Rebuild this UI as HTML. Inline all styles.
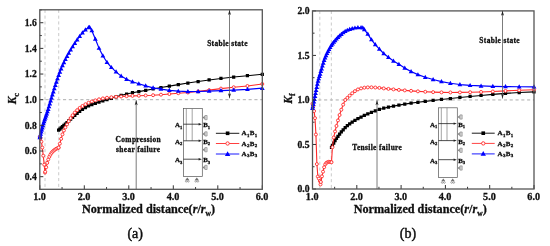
<!DOCTYPE html>
<html><head><meta charset="utf-8"><title>Figure</title>
<style>html,body{margin:0;padding:0;background:#fff;width:550px;height:246px;overflow:hidden}svg{display:block}</style>
</head><body>
<svg width="550" height="246" viewBox="0 0 550 246">
<defs><filter id="bl" x="-2%" y="-2%" width="104%" height="104%"><feGaussianBlur stdDeviation="0.35"/></filter></defs>
<style>text{stroke:#111;stroke-width:0.3px;stroke-linejoin:round}text.sym{stroke:none}.ns text{stroke-width:0.3px}</style>
<rect width="550" height="246" fill="#fff"/>
<g filter="url(#bl)">
<path d="M39.8 99.7H262.3" stroke="#a4a4a4" stroke-width="0.9" stroke-dasharray="3.1 2.7" fill="none"/>
<path d="M45.01 9.8V189.3M58.71 9.8V189.3" stroke="#bcbcbc" stroke-width="0.8" stroke-dasharray="3.1 2.7" fill="none"/>
<polyline points="58.6,130.2 59.83,129.11 61.12,127.94 62.46,126.71 63.88,125.39 65.39,124.02 67.02,122.56 68.75,120.93 70.62,119.19 72.62,117.35 74.79,115.43 77.14,113.4 79.68,111.39 82.45,109.41 85.43,107.59 88.56,105.98 91.86,104.6 95.34,103.33 99,102.06 102.88,100.84 106.97,99.61 111.36,98.28 116.07,96.83 121.14,95.36 126.6,94.01 132.49,92.75 138.83,91.61 145.69,90.36 153.09,88.95 160.96,87.55 169.35,86.09 178.3,84.62 187.88,83.06 198.13,81.57 209.13,79.96 220.95,78.49 233.68,77.07 247.43,75.69 262.3,74.3" fill="none" stroke="#000" stroke-width="1.1" stroke-linejoin="round"/>
<path d="M56.98 128.57h3.25v3.25h-3.25zM58.21 127.48h3.25v3.25h-3.25zM59.5 126.32h3.25v3.25h-3.25zM60.83 125.09h3.25v3.25h-3.25zM62.25 123.76h3.25v3.25h-3.25zM63.77 122.39h3.25v3.25h-3.25zM65.39 120.94h3.25v3.25h-3.25zM67.13 119.3h3.25v3.25h-3.25zM68.99 117.56h3.25v3.25h-3.25zM71 115.72h3.25v3.25h-3.25zM73.17 113.8h3.25v3.25h-3.25zM75.51 111.77h3.25v3.25h-3.25zM78.06 109.76h3.25v3.25h-3.25zM80.83 107.78h3.25v3.25h-3.25zM83.81 105.97h3.25v3.25h-3.25zM86.94 104.35h3.25v3.25h-3.25zM90.24 102.98h3.25v3.25h-3.25zM93.71 101.71h3.25v3.25h-3.25zM97.38 100.44h3.25v3.25h-3.25zM101.25 99.22h3.25v3.25h-3.25zM105.35 97.98h3.25v3.25h-3.25zM109.74 96.66h3.25v3.25h-3.25zM114.45 95.2h3.25v3.25h-3.25zM119.51 93.73h3.25v3.25h-3.25zM124.97 92.38h3.25v3.25h-3.25zM130.86 91.12h3.25v3.25h-3.25zM137.21 89.98h3.25v3.25h-3.25zM144.07 88.74h3.25v3.25h-3.25zM151.46 87.32h3.25v3.25h-3.25zM159.33 85.93h3.25v3.25h-3.25zM167.72 84.47h3.25v3.25h-3.25zM176.68 82.99h3.25v3.25h-3.25zM186.25 81.43h3.25v3.25h-3.25zM196.5 79.94h3.25v3.25h-3.25zM207.5 78.33h3.25v3.25h-3.25zM219.32 76.87h3.25v3.25h-3.25zM232.05 75.45h3.25v3.25h-3.25zM245.8 74.06h3.25v3.25h-3.25zM260.68 72.68h3.25v3.25h-3.25z" fill="#000"/>
<polyline points="39.8,136.8 40.48,138.19 41.39,141.7 42.31,147.6 43.25,155.69 44.21,164.65 45,172.6 45.19,171.73 46.19,167.22 47.2,162.89 48.24,159.49 49.3,156.79 50.38,154.66 51.48,152.9 52.6,151.57 53.75,150.54 54.92,149.69 56.11,148.91 57.33,148.21 58.57,147.61 58.6,147.6 59.83,143.66 61.12,138.85 62.46,134.38 63.88,130.58 65.39,127.38 67.02,124.41 68.75,121.2 70.62,118.14 72.62,115.28 74.79,112.59 77.14,110.18 79.68,107.97 82.45,106 85.43,104.24 88.56,102.75 91.86,101.48 95.34,100.37 99,99.31 102.88,98.43 106.97,97.76 111.36,97.25 116.07,96.85 121.14,96.47 126.6,96.18 132.49,95.87 138.83,95.73 145.69,95.49 153.09,95.19 160.96,94.68 169.35,94 178.3,93.21 187.88,92.48 198.13,91.38 209.13,90.16 220.95,88.59 233.68,87.27 247.43,85.99 262.3,84" fill="none" stroke="#ff2a2a" stroke-width="1.1" stroke-linejoin="round"/>
<g fill="#fff" stroke="#ff2a2a" stroke-width="0.9"><circle cx="39.8" cy="136.8" r="1.5"/><circle cx="40.48" cy="138.19" r="1.5"/><circle cx="41.39" cy="141.7" r="1.5"/><circle cx="42.31" cy="147.6" r="1.5"/><circle cx="43.25" cy="155.69" r="1.5"/><circle cx="44.21" cy="164.65" r="1.5"/><circle cx="45" cy="172.6" r="1.5"/><circle cx="45.19" cy="171.73" r="1.5"/><circle cx="46.19" cy="167.22" r="1.5"/><circle cx="47.2" cy="162.89" r="1.5"/><circle cx="48.24" cy="159.49" r="1.5"/><circle cx="49.3" cy="156.79" r="1.5"/><circle cx="50.38" cy="154.66" r="1.5"/><circle cx="51.48" cy="152.9" r="1.5"/><circle cx="52.6" cy="151.57" r="1.5"/><circle cx="53.75" cy="150.54" r="1.5"/><circle cx="54.92" cy="149.69" r="1.5"/><circle cx="56.11" cy="148.91" r="1.5"/><circle cx="57.33" cy="148.21" r="1.5"/><circle cx="58.57" cy="147.61" r="1.5"/><circle cx="58.6" cy="147.6" r="1.5"/><circle cx="59.83" cy="143.66" r="1.5"/><circle cx="61.12" cy="138.85" r="1.5"/><circle cx="62.46" cy="134.38" r="1.5"/><circle cx="63.88" cy="130.58" r="1.5"/><circle cx="65.39" cy="127.38" r="1.5"/><circle cx="67.02" cy="124.41" r="1.5"/><circle cx="68.75" cy="121.2" r="1.5"/><circle cx="70.62" cy="118.14" r="1.5"/><circle cx="72.62" cy="115.28" r="1.5"/><circle cx="74.79" cy="112.59" r="1.5"/><circle cx="77.14" cy="110.18" r="1.5"/><circle cx="79.68" cy="107.97" r="1.5"/><circle cx="82.45" cy="106" r="1.5"/><circle cx="85.43" cy="104.24" r="1.5"/><circle cx="88.56" cy="102.75" r="1.5"/><circle cx="91.86" cy="101.48" r="1.5"/><circle cx="95.34" cy="100.37" r="1.5"/><circle cx="99" cy="99.31" r="1.5"/><circle cx="102.88" cy="98.43" r="1.5"/><circle cx="106.97" cy="97.76" r="1.5"/><circle cx="111.36" cy="97.25" r="1.5"/><circle cx="116.07" cy="96.85" r="1.5"/><circle cx="121.14" cy="96.47" r="1.5"/><circle cx="126.6" cy="96.18" r="1.5"/><circle cx="132.49" cy="95.87" r="1.5"/><circle cx="138.83" cy="95.73" r="1.5"/><circle cx="145.69" cy="95.49" r="1.5"/><circle cx="153.09" cy="95.19" r="1.5"/><circle cx="160.96" cy="94.68" r="1.5"/><circle cx="169.35" cy="94" r="1.5"/><circle cx="178.3" cy="93.21" r="1.5"/><circle cx="187.88" cy="92.48" r="1.5"/><circle cx="198.13" cy="91.38" r="1.5"/><circle cx="209.13" cy="90.16" r="1.5"/><circle cx="220.95" cy="88.59" r="1.5"/><circle cx="233.68" cy="87.27" r="1.5"/><circle cx="247.43" cy="85.99" r="1.5"/><circle cx="262.3" cy="84" r="1.5"/></g>
<polyline points="39.8,137.5 40.14,136.09 40.65,134.01 41.17,131.93 41.71,129.83 42.27,127.74 42.84,125.66 43.44,123.59 44.05,121.56 44.68,119.61 45.33,117.7 46.01,115.78 46.71,113.79 47.43,111.66 48.18,109.3 48.96,106.65 49.77,103.8 50.61,100.86 51.48,97.91 52.38,94.87 53.32,91.74 54.3,88.55 55.32,85.32 56.38,82.03 57.49,78.67 58.65,75.3 59.86,71.96 61.12,68.7 62.46,65.59 63.88,62.5 65.39,59.41 67.02,56.29 68.75,53.15 70.62,49.94 72.62,46.66 74.79,43.28 77.14,39.81 79.68,36.25 82.45,32.78 85.43,29.74 88.56,27.62 89.6,27.2 91.86,30.67 95.34,39.06 99,48.15 102.88,55.75 106.97,62.25 111.36,67.4 116.07,71.86 121.14,76.09 126.6,79.35 132.49,81.79 138.83,83.75 145.69,85.86 153.09,87.86 160.96,89.14 169.35,90.31 178.3,91.19 187.88,91.6 198.13,91.5 209.13,91.09 220.95,90.6 233.68,90.09 247.43,89.39 262.3,88.2" fill="none" stroke="#0000ff" stroke-width="1.2" stroke-linejoin="round"/>
<path d="M39.8 134.98l2.4 4.2h-4.8zM40.14 133.57l2.4 4.2h-4.8zM40.65 131.49l2.4 4.2h-4.8zM41.17 129.41l2.4 4.2h-4.8zM41.71 127.31l2.4 4.2h-4.8zM42.27 125.22l2.4 4.2h-4.8zM42.84 123.14l2.4 4.2h-4.8zM43.44 121.07l2.4 4.2h-4.8zM44.05 119.04l2.4 4.2h-4.8zM44.68 117.09l2.4 4.2h-4.8zM45.33 115.18l2.4 4.2h-4.8zM46.01 113.26l2.4 4.2h-4.8zM46.71 111.27l2.4 4.2h-4.8zM47.43 109.14l2.4 4.2h-4.8zM48.18 106.78l2.4 4.2h-4.8zM48.96 104.13l2.4 4.2h-4.8zM49.77 101.28l2.4 4.2h-4.8zM50.61 98.34l2.4 4.2h-4.8zM51.48 95.39l2.4 4.2h-4.8zM52.38 92.35l2.4 4.2h-4.8zM53.32 89.22l2.4 4.2h-4.8zM54.3 86.03l2.4 4.2h-4.8zM55.32 82.8l2.4 4.2h-4.8zM56.38 79.51l2.4 4.2h-4.8zM57.49 76.15l2.4 4.2h-4.8zM58.65 72.78l2.4 4.2h-4.8zM59.86 69.44l2.4 4.2h-4.8zM61.12 66.18l2.4 4.2h-4.8zM62.46 63.07l2.4 4.2h-4.8zM63.88 59.98l2.4 4.2h-4.8zM65.39 56.89l2.4 4.2h-4.8zM67.02 53.77l2.4 4.2h-4.8zM68.75 50.63l2.4 4.2h-4.8zM70.62 47.42l2.4 4.2h-4.8zM72.62 44.14l2.4 4.2h-4.8zM74.79 40.76l2.4 4.2h-4.8zM77.14 37.29l2.4 4.2h-4.8zM79.68 33.73l2.4 4.2h-4.8zM82.45 30.26l2.4 4.2h-4.8zM85.43 27.22l2.4 4.2h-4.8zM88.56 25.1l2.4 4.2h-4.8zM89.6 24.68l2.4 4.2h-4.8zM91.86 28.15l2.4 4.2h-4.8zM95.34 36.54l2.4 4.2h-4.8zM99 45.63l2.4 4.2h-4.8zM102.88 53.23l2.4 4.2h-4.8zM106.97 59.73l2.4 4.2h-4.8zM111.36 64.88l2.4 4.2h-4.8zM116.07 69.34l2.4 4.2h-4.8zM121.14 73.57l2.4 4.2h-4.8zM126.6 76.83l2.4 4.2h-4.8zM132.49 79.27l2.4 4.2h-4.8zM138.83 81.23l2.4 4.2h-4.8zM145.69 83.34l2.4 4.2h-4.8zM153.09 85.34l2.4 4.2h-4.8zM160.96 86.62l2.4 4.2h-4.8zM169.35 87.79l2.4 4.2h-4.8zM178.3 88.67l2.4 4.2h-4.8zM187.88 89.08l2.4 4.2h-4.8zM198.13 88.98l2.4 4.2h-4.8zM209.13 88.57l2.4 4.2h-4.8zM220.95 88.08l2.4 4.2h-4.8zM233.68 87.57l2.4 4.2h-4.8zM247.43 86.87l2.4 4.2h-4.8zM262.3 85.68l2.4 4.2h-4.8z" fill="#0000ff"/>
<path d="M39.8 189.3v-4M84.3 189.3v-4M128.8 189.3v-4M173.3 189.3v-4M217.8 189.3v-4M262.3 189.3v-4M62.05 189.3v-2.2M106.55 189.3v-2.2M151.05 189.3v-2.2M195.55 189.3v-2.2M240.05 189.3v-2.2M39.8 176.68h3.5M39.8 151.02h3.5M39.8 125.36h3.5M39.8 99.7h3.5M39.8 74.04h3.5M39.8 48.38h3.5M39.8 22.72h3.5M39.8 189.51h2M39.8 163.85h2M39.8 138.19h2M39.8 112.53h2M39.8 86.87h2M39.8 61.21h2M39.8 35.55h2M39.8 9.89h2" stroke="#333" stroke-width="1" fill="none"/>
<rect x="39.8" y="9.8" width="222.5" height="179.5" fill="none" stroke="#555" stroke-width="1.3"/>
<g font-family='"Liberation Serif", "Times New Roman", serif' font-weight="bold" font-size="9.6" fill="#111"><text x="39.5" y="200.3" text-anchor="middle" font-size="10.2">1.0</text><text x="84" y="200.3" text-anchor="middle" font-size="10.2">2.0</text><text x="128.5" y="200.3" text-anchor="middle" font-size="10.2">3.0</text><text x="173" y="200.3" text-anchor="middle" font-size="10.2">4.0</text><text x="217.5" y="200.3" text-anchor="middle" font-size="10.2">5.0</text><text x="262" y="200.3" text-anchor="middle" font-size="10.2">6.0</text><text x="36.8" y="179.98" text-anchor="end">0.4</text><text x="36.8" y="154.32" text-anchor="end">0.6</text><text x="36.8" y="128.66" text-anchor="end">0.8</text><text x="36.8" y="103" text-anchor="end">1.0</text><text x="36.8" y="77.34" text-anchor="end">1.2</text><text x="36.8" y="51.68" text-anchor="end">1.4</text><text x="36.8" y="26.02" text-anchor="end">1.6</text></g>
<path d="M229.5 98.3V10" stroke="#5a5a5a" stroke-width="0.8" fill="none"/><path d="M229.5 10l-1.5 5l1.5 -1.2l1.5 1.2z" fill="#222"/><path d="M229.5 98.3l-1.5 -5l1.5 1.2l1.5 -1.2z" fill="#222"/>
<g font-family='"Liberation Serif", "Times New Roman", serif' font-weight="bold" font-size="7.4" fill="#111" class="ns"><text x="227.48" y="45.5" text-anchor="middle" letter-spacing="0.36">Stable state</text></g>
<path d="M136.2 189V100.2" stroke="#5a5a5a" stroke-width="0.8" fill="none"/><path d="M136.2 100.2l-1.5 5l1.5 -1.2l1.5 1.2z" fill="#222"/>
<g font-family='"Liberation Serif", "Times New Roman", serif' font-weight="bold" font-size="7.4" fill="#111" class="ns"><text x="138.28" y="142.4" text-anchor="middle" letter-spacing="0.36">Compression</text><text x="138.28" y="152" text-anchor="middle" letter-spacing="0.36">shear failure</text></g>
<g font-family='"Liberation Serif", "Times New Roman", serif' font-weight="bold" font-size="6.9" fill="#111"><rect x="183.4" y="108.6" width="18.9" height="68" fill="none" stroke="#555" stroke-width="0.7"/><path d="M186.3 108.6V140.8" stroke="#666" stroke-width="0.6"/><path d="M192.2 108.6V140.8" stroke="#666" stroke-width="0.6"/><path d="M183.4 124.2H199.3" stroke="#222" stroke-width="0.8"/><path d="M201.8 124.2l-3.2 -1.2v2.4z" fill="#222"/><text x="182.2" y="127.3" text-anchor="end">A<tspan font-size="4.6" dy="1.5">1</tspan></text><text x="203.2" y="127.3">B<tspan font-size="4.6" dy="1.5">1</tspan></text><path d="M183.4 140.8H199.3" stroke="#222" stroke-width="0.8"/><path d="M201.8 140.8l-3.2 -1.2v2.4z" fill="#222"/><text x="182.2" y="143.9" text-anchor="end">A<tspan font-size="4.6" dy="1.5">2</tspan></text><text x="203.2" y="143.9">B<tspan font-size="4.6" dy="1.5">2</tspan></text><path d="M183.4 159.2H199.3" stroke="#222" stroke-width="0.8"/><path d="M201.8 159.2l-3.2 -1.2v2.4z" fill="#222"/><text x="182.2" y="162.3" text-anchor="end">A<tspan font-size="4.6" dy="1.5">3</tspan></text><text x="203.2" y="162.3">B<tspan font-size="4.6" dy="1.5">3</tspan></text><path d="M202.6 117.6l2 -1.8v3.6z" fill="#7a7a7a"/><path d="M204.9 115.5h2.2v4.2h-2.2z" fill="none" stroke="#7a7a7a" stroke-width="0.6"/><path d="M206 115.5v4.2" stroke="#7a7a7a" stroke-width="0.5"/><path d="M202.6 133.9l2 -1.8v3.6z" fill="#7a7a7a"/><path d="M204.9 131.8h2.2v4.2h-2.2z" fill="none" stroke="#7a7a7a" stroke-width="0.6"/><path d="M206 131.8v4.2" stroke="#7a7a7a" stroke-width="0.5"/><path d="M202.6 149.7l2 -1.8v3.6z" fill="#7a7a7a"/><path d="M204.9 147.6h2.2v4.2h-2.2z" fill="none" stroke="#7a7a7a" stroke-width="0.6"/><path d="M206 147.6v4.2" stroke="#7a7a7a" stroke-width="0.5"/><path d="M202.6 167.4l2 -1.8v3.6z" fill="#7a7a7a"/><path d="M204.9 165.3h2.2v4.2h-2.2z" fill="none" stroke="#7a7a7a" stroke-width="0.6"/><path d="M206 165.3v4.2" stroke="#7a7a7a" stroke-width="0.5"/><path d="M187.3 177.4l-1.9 2.5h3.8z" fill="#707070"/><circle cx="186.25" cy="181.2" r="0.9" fill="none" stroke="#707070" stroke-width="0.6"/><circle cx="188.35" cy="181.2" r="0.9" fill="none" stroke="#707070" stroke-width="0.6"/><path d="M196.8 177.4l-1.9 2.5h3.8z" fill="#707070"/><circle cx="195.75" cy="181.2" r="0.9" fill="none" stroke="#707070" stroke-width="0.6"/><circle cx="197.85" cy="181.2" r="0.9" fill="none" stroke="#707070" stroke-width="0.6"/></g>
<g font-family='"Liberation Serif", "Times New Roman", serif' font-weight="bold" font-size="7.1" fill="#111"><path d="M215.9 133.3H239.3" stroke="#000" stroke-width="0.9"/><path d="M225.78 131.48h3.64v3.64h-3.64z" fill="#000"/><text x="241.5" y="135.4">A<tspan font-size="4.9" dx="0.3" dy="1.3">1</tspan><tspan dx="0.3" dy="-1.3">B</tspan><tspan font-size="4.9" dx="0.3" dy="1.3">1</tspan></text><path d="M215.9 143.5H239.3" stroke="#ff2a2a" stroke-width="0.9"/><g fill="#fff" stroke="#ff2a2a" stroke-width="0.9"><circle cx="227.6" cy="143.5" r="1.6800000000000002"/></g><text x="241.5" y="145.6">A<tspan font-size="4.9" dx="0.3" dy="1.3">2</tspan><tspan dx="0.3" dy="-1.3">B</tspan><tspan font-size="4.9" dx="0.3" dy="1.3">2</tspan></text><path d="M215.9 154H239.3" stroke="#0000ff" stroke-width="0.9"/><path d="M227.6 151.18l2.69 4.7h-5.38z" fill="#0000ff"/><text x="241.5" y="156.1">A<tspan font-size="4.9" dx="0.3" dy="1.3">3</tspan><tspan dx="0.3" dy="-1.3">B</tspan><tspan font-size="4.9" dx="0.3" dy="1.3">3</tspan></text></g>
<path d="M312.5 99.95H534" stroke="#a4a4a4" stroke-width="0.9" stroke-dasharray="3.1 2.7" fill="none"/>
<path d="M319.81 10.9V189M331.33 10.9V189" stroke="#bcbcbc" stroke-width="0.8" stroke-dasharray="3.1 2.7" fill="none"/>
<polyline points="331.5,147.4 332.44,145.47 333.73,143.01 335.06,140.71 336.47,138.49 337.98,136.31 339.59,134.14 341.32,131.96 343.18,129.83 345.18,127.74 347.33,125.69 349.67,123.79 352.2,122.02 354.96,120.3 357.93,118.63 361.05,117.04 364.33,115.49 367.79,113.95 371.44,112.42 375.29,110.85 379.37,109.45 383.74,108.2 388.43,107.09 393.47,106.12 398.91,105.13 404.77,104.09 411.08,103.15 417.92,102.31 425.28,101.4 433.12,100.44 441.47,99.48 450.38,98.51 459.91,97.47 470.12,96.47 481.06,95.49 492.83,94.38 505.51,93.39 519.19,92.57 534,91.9" fill="none" stroke="#000" stroke-width="1.1" stroke-linejoin="round"/>
<path d="M329.88 145.78h3.25v3.25h-3.25zM330.82 143.84h3.25v3.25h-3.25zM332.1 141.38h3.25v3.25h-3.25zM333.43 139.08h3.25v3.25h-3.25zM334.85 136.86h3.25v3.25h-3.25zM336.35 134.69h3.25v3.25h-3.25zM337.97 132.52h3.25v3.25h-3.25zM339.7 130.34h3.25v3.25h-3.25zM341.55 128.21h3.25v3.25h-3.25zM343.55 126.12h3.25v3.25h-3.25zM345.71 124.07h3.25v3.25h-3.25zM348.04 122.17h3.25v3.25h-3.25zM350.57 120.39h3.25v3.25h-3.25zM353.33 118.68h3.25v3.25h-3.25zM356.3 117h3.25v3.25h-3.25zM359.42 115.41h3.25v3.25h-3.25zM362.7 113.86h3.25v3.25h-3.25zM366.16 112.33h3.25v3.25h-3.25zM369.81 110.79h3.25v3.25h-3.25zM373.67 109.23h3.25v3.25h-3.25zM377.75 107.83h3.25v3.25h-3.25zM382.12 106.58h3.25v3.25h-3.25zM386.81 105.46h3.25v3.25h-3.25zM391.85 104.5h3.25v3.25h-3.25zM397.28 103.5h3.25v3.25h-3.25zM403.14 102.47h3.25v3.25h-3.25zM409.46 101.52h3.25v3.25h-3.25zM416.29 100.69h3.25v3.25h-3.25zM423.65 99.78h3.25v3.25h-3.25zM431.49 98.81h3.25v3.25h-3.25zM439.84 97.86h3.25v3.25h-3.25zM448.76 96.89h3.25v3.25h-3.25zM458.29 95.84h3.25v3.25h-3.25zM468.49 94.85h3.25v3.25h-3.25zM479.44 93.87h3.25v3.25h-3.25zM491.21 92.76h3.25v3.25h-3.25zM503.88 91.77h3.25v3.25h-3.25zM517.57 90.94h3.25v3.25h-3.25zM532.38 90.28h3.25v3.25h-3.25z" fill="#000"/>
<polyline points="312.5,103.8 313.18,106.35 314.08,111.09 315,118.12 315.93,134.5 316.89,164.08 317.86,176.54 318.86,178.55 319.87,181.11 320.5,184.4 320.9,181.97 321.96,176.34 323.03,171.69 324.13,167.23 325.25,164.33 326.39,162.9 327.55,162.17 328.74,161.81 329.95,161.83 331.18,162.08 331.5,162.2 332.44,147.21 333.73,137.5 335.06,131.43 336.47,125.99 337.98,120.41 339.59,115.01 341.32,109.76 343.18,104.64 345.18,100.01 347.33,97.89 349.67,95.6 352.2,93.25 354.96,91.13 357.93,89.43 361.05,88.38 364.33,87.68 367.79,87.36 371.44,87.3 375.29,87.53 379.37,87.87 383.74,88.42 388.43,88.89 393.47,89.39 398.91,89.92 404.77,90.38 411.08,90.83 417.92,91.33 425.28,91.77 433.12,92.12 441.47,92.35 450.38,92.45 459.91,92.4 470.12,92.24 481.06,91.95 492.83,91.49 505.51,90.9 519.19,90.28 534,89.7" fill="none" stroke="#ff2a2a" stroke-width="1.1" stroke-linejoin="round"/>
<g fill="#fff" stroke="#ff2a2a" stroke-width="0.9"><circle cx="312.5" cy="103.8" r="1.5"/><circle cx="313.18" cy="106.35" r="1.5"/><circle cx="314.08" cy="111.09" r="1.5"/><circle cx="315" cy="118.12" r="1.5"/><circle cx="315.93" cy="134.5" r="1.5"/><circle cx="316.89" cy="164.08" r="1.5"/><circle cx="317.86" cy="176.54" r="1.5"/><circle cx="318.86" cy="178.55" r="1.5"/><circle cx="319.87" cy="181.11" r="1.5"/><circle cx="320.5" cy="184.4" r="1.5"/><circle cx="320.9" cy="181.97" r="1.5"/><circle cx="321.96" cy="176.34" r="1.5"/><circle cx="323.03" cy="171.69" r="1.5"/><circle cx="324.13" cy="167.23" r="1.5"/><circle cx="325.25" cy="164.33" r="1.5"/><circle cx="326.39" cy="162.9" r="1.5"/><circle cx="327.55" cy="162.17" r="1.5"/><circle cx="328.74" cy="161.81" r="1.5"/><circle cx="329.95" cy="161.83" r="1.5"/><circle cx="331.18" cy="162.08" r="1.5"/><circle cx="331.5" cy="162.2" r="1.5"/><circle cx="332.44" cy="147.21" r="1.5"/><circle cx="333.73" cy="137.5" r="1.5"/><circle cx="335.06" cy="131.43" r="1.5"/><circle cx="336.47" cy="125.99" r="1.5"/><circle cx="337.98" cy="120.41" r="1.5"/><circle cx="339.59" cy="115.01" r="1.5"/><circle cx="341.32" cy="109.76" r="1.5"/><circle cx="343.18" cy="104.64" r="1.5"/><circle cx="345.18" cy="100.01" r="1.5"/><circle cx="347.33" cy="97.89" r="1.5"/><circle cx="349.67" cy="95.6" r="1.5"/><circle cx="352.2" cy="93.25" r="1.5"/><circle cx="354.96" cy="91.13" r="1.5"/><circle cx="357.93" cy="89.43" r="1.5"/><circle cx="361.05" cy="88.38" r="1.5"/><circle cx="364.33" cy="87.68" r="1.5"/><circle cx="367.79" cy="87.36" r="1.5"/><circle cx="371.44" cy="87.3" r="1.5"/><circle cx="375.29" cy="87.53" r="1.5"/><circle cx="379.37" cy="87.87" r="1.5"/><circle cx="383.74" cy="88.42" r="1.5"/><circle cx="388.43" cy="88.89" r="1.5"/><circle cx="393.47" cy="89.39" r="1.5"/><circle cx="398.91" cy="89.92" r="1.5"/><circle cx="404.77" cy="90.38" r="1.5"/><circle cx="411.08" cy="90.83" r="1.5"/><circle cx="417.92" cy="91.33" r="1.5"/><circle cx="425.28" cy="91.77" r="1.5"/><circle cx="433.12" cy="92.12" r="1.5"/><circle cx="441.47" cy="92.35" r="1.5"/><circle cx="450.38" cy="92.45" r="1.5"/><circle cx="459.91" cy="92.4" r="1.5"/><circle cx="470.12" cy="92.24" r="1.5"/><circle cx="481.06" cy="91.95" r="1.5"/><circle cx="492.83" cy="91.49" r="1.5"/><circle cx="505.51" cy="90.9" r="1.5"/><circle cx="519.19" cy="90.28" r="1.5"/><circle cx="534" cy="89.7" r="1.5"/></g>
<polyline points="312.5,108.2 312.84,106.67 313.34,104.32 313.87,101.84 314.4,99.2 314.96,96.36 315.53,93.4 316.12,90.4 316.73,87.3 317.36,84.13 318.01,81.17 318.68,78.65 319.38,76.35 320.1,73.96 320.85,71.39 321.62,68.73 322.42,65.92 323.26,63.1 324.12,60.27 325.02,57.72 325.96,55.46 326.93,53.35 327.95,51.3 329,49.24 330.11,47.22 331.26,45.36 332.47,43.7 333.73,42.16 335.06,40.61 336.47,38.91 337.98,37.22 339.59,35.71 341.32,34.24 343.18,32.68 345.18,31.27 347.33,30.18 349.67,29.27 352.2,28.5 354.96,27.92 357.93,27.59 361.05,27.53 362.8,27.7 364.33,29.47 367.79,34.14 371.44,39.66 375.29,44.61 379.37,49.14 383.74,53.51 388.43,57.25 393.47,60.95 398.91,64.33 404.77,68.11 411.08,71.5 417.92,74.65 425.28,77.26 433.12,79.49 441.47,81.56 450.38,83.28 459.91,84.53 470.12,85.42 481.06,85.95 492.83,86.36 505.51,86.6 519.19,86.75 534,86.85" fill="none" stroke="#0000ff" stroke-width="1.2" stroke-linejoin="round"/>
<path d="M312.5 105.68l2.4 4.2h-4.8zM312.84 104.15l2.4 4.2h-4.8zM313.34 101.8l2.4 4.2h-4.8zM313.87 99.32l2.4 4.2h-4.8zM314.4 96.68l2.4 4.2h-4.8zM314.96 93.84l2.4 4.2h-4.8zM315.53 90.88l2.4 4.2h-4.8zM316.12 87.88l2.4 4.2h-4.8zM316.73 84.78l2.4 4.2h-4.8zM317.36 81.61l2.4 4.2h-4.8zM318.01 78.65l2.4 4.2h-4.8zM318.68 76.13l2.4 4.2h-4.8zM319.38 73.83l2.4 4.2h-4.8zM320.1 71.44l2.4 4.2h-4.8zM320.85 68.87l2.4 4.2h-4.8zM321.62 66.21l2.4 4.2h-4.8zM322.42 63.4l2.4 4.2h-4.8zM323.26 60.58l2.4 4.2h-4.8zM324.12 57.75l2.4 4.2h-4.8zM325.02 55.2l2.4 4.2h-4.8zM325.96 52.94l2.4 4.2h-4.8zM326.93 50.83l2.4 4.2h-4.8zM327.95 48.78l2.4 4.2h-4.8zM329 46.72l2.4 4.2h-4.8zM330.11 44.7l2.4 4.2h-4.8zM331.26 42.84l2.4 4.2h-4.8zM332.47 41.18l2.4 4.2h-4.8zM333.73 39.64l2.4 4.2h-4.8zM335.06 38.09l2.4 4.2h-4.8zM336.47 36.39l2.4 4.2h-4.8zM337.98 34.7l2.4 4.2h-4.8zM339.59 33.19l2.4 4.2h-4.8zM341.32 31.72l2.4 4.2h-4.8zM343.18 30.16l2.4 4.2h-4.8zM345.18 28.75l2.4 4.2h-4.8zM347.33 27.66l2.4 4.2h-4.8zM349.67 26.75l2.4 4.2h-4.8zM352.2 25.98l2.4 4.2h-4.8zM354.96 25.4l2.4 4.2h-4.8zM357.93 25.07l2.4 4.2h-4.8zM361.05 25.01l2.4 4.2h-4.8zM362.8 25.18l2.4 4.2h-4.8zM364.33 26.95l2.4 4.2h-4.8zM367.79 31.62l2.4 4.2h-4.8zM371.44 37.14l2.4 4.2h-4.8zM375.29 42.09l2.4 4.2h-4.8zM379.37 46.62l2.4 4.2h-4.8zM383.74 50.99l2.4 4.2h-4.8zM388.43 54.73l2.4 4.2h-4.8zM393.47 58.43l2.4 4.2h-4.8zM398.91 61.81l2.4 4.2h-4.8zM404.77 65.59l2.4 4.2h-4.8zM411.08 68.98l2.4 4.2h-4.8zM417.92 72.13l2.4 4.2h-4.8zM425.28 74.74l2.4 4.2h-4.8zM433.12 76.97l2.4 4.2h-4.8zM441.47 79.04l2.4 4.2h-4.8zM450.38 80.76l2.4 4.2h-4.8zM459.91 82.01l2.4 4.2h-4.8zM470.12 82.9l2.4 4.2h-4.8zM481.06 83.43l2.4 4.2h-4.8zM492.83 83.84l2.4 4.2h-4.8zM505.51 84.08l2.4 4.2h-4.8zM519.19 84.23l2.4 4.2h-4.8zM534 84.33l2.4 4.2h-4.8z" fill="#0000ff"/>
<path d="M312.5 189v-4M356.8 189v-4M401.1 189v-4M445.4 189v-4M489.7 189v-4M534 189v-4M334.65 189v-2.2M378.95 189v-2.2M423.25 189v-2.2M467.55 189v-2.2M511.85 189v-2.2M312.5 189h3.5M312.5 144.47h3.5M312.5 99.95h3.5M312.5 55.43h3.5M312.5 10.9h3.5M312.5 166.74h2M312.5 122.21h2M312.5 77.69h2M312.5 33.16h2" stroke="#333" stroke-width="1" fill="none"/>
<rect x="312.5" y="10.9" width="221.5" height="178.1" fill="none" stroke="#555" stroke-width="1.3"/>
<g font-family='"Liberation Serif", "Times New Roman", serif' font-weight="bold" font-size="9.6" fill="#111"><text x="312.2" y="200.3" text-anchor="middle" font-size="10.2">1.0</text><text x="356.5" y="200.3" text-anchor="middle" font-size="10.2">2.0</text><text x="400.8" y="200.3" text-anchor="middle" font-size="10.2">3.0</text><text x="445.1" y="200.3" text-anchor="middle" font-size="10.2">4.0</text><text x="489.4" y="200.3" text-anchor="middle" font-size="10.2">5.0</text><text x="533.7" y="200.3" text-anchor="middle" font-size="10.2">6.0</text><text x="309.5" y="192.3" text-anchor="end">0.0</text><text x="309.5" y="147.78" text-anchor="end">0.5</text><text x="309.5" y="103.25" text-anchor="end">1.0</text><text x="309.5" y="58.73" text-anchor="end">1.5</text><text x="309.5" y="14.2" text-anchor="end">2.0</text></g>
<path d="M502.5 98.6V10.8" stroke="#5a5a5a" stroke-width="0.8" fill="none"/><path d="M502.5 10.8l-1.5 5l1.5 -1.2l1.5 1.2z" fill="#222"/><path d="M502.5 98.6l-1.5 -5l1.5 1.2l1.5 -1.2z" fill="#222"/>
<g font-family='"Liberation Serif", "Times New Roman", serif' font-weight="bold" font-size="7.4" fill="#111" class="ns"><text x="499.68" y="42.7" text-anchor="middle" letter-spacing="0.36">Stable state</text></g>
<path d="M377 189V100.2" stroke="#5a5a5a" stroke-width="0.8" fill="none"/><path d="M377 100.2l-1.5 5l1.5 -1.2l1.5 1.2z" fill="#222"/>
<g font-family='"Liberation Serif", "Times New Roman", serif' font-weight="bold" font-size="7.4" fill="#111" class="ns"><text x="377.28" y="149.6" text-anchor="middle" letter-spacing="0.36">Tensile failure</text></g>
<g font-family='"Liberation Serif", "Times New Roman", serif' font-weight="bold" font-size="6.9" fill="#111"><rect x="438.4" y="107.8" width="18.9" height="69.7" fill="none" stroke="#555" stroke-width="0.7"/><path d="M441.3 107.8V140.6" stroke="#666" stroke-width="0.6"/><path d="M447 107.8V140.6" stroke="#666" stroke-width="0.6"/><path d="M438.4 123.6H454.3" stroke="#222" stroke-width="0.8"/><path d="M456.8 123.6l-3.2 -1.2v2.4z" fill="#222"/><text x="437.2" y="126.7" text-anchor="end">A<tspan font-size="4.6" dy="1.5">1</tspan></text><text x="458.2" y="126.7">B<tspan font-size="4.6" dy="1.5">1</tspan></text><path d="M438.4 140.6H454.3" stroke="#222" stroke-width="0.8"/><path d="M456.8 140.6l-3.2 -1.2v2.4z" fill="#222"/><text x="437.2" y="143.7" text-anchor="end">A<tspan font-size="4.6" dy="1.5">2</tspan></text><text x="458.2" y="143.7">B<tspan font-size="4.6" dy="1.5">2</tspan></text><path d="M438.4 159.7H454.3" stroke="#222" stroke-width="0.8"/><path d="M456.8 159.7l-3.2 -1.2v2.4z" fill="#222"/><text x="437.2" y="162.8" text-anchor="end">A<tspan font-size="4.6" dy="1.5">3</tspan></text><text x="458.2" y="162.8">B<tspan font-size="4.6" dy="1.5">3</tspan></text><path d="M457.7 117l2 -1.8v3.6z" fill="#7a7a7a"/><path d="M460 114.9h2.2v4.2h-2.2z" fill="none" stroke="#7a7a7a" stroke-width="0.6"/><path d="M461.1 114.9v4.2" stroke="#7a7a7a" stroke-width="0.5"/><path d="M457.7 134.1l2 -1.8v3.6z" fill="#7a7a7a"/><path d="M460 132h2.2v4.2h-2.2z" fill="none" stroke="#7a7a7a" stroke-width="0.6"/><path d="M461.1 132v4.2" stroke="#7a7a7a" stroke-width="0.5"/><path d="M457.7 150.3l2 -1.8v3.6z" fill="#7a7a7a"/><path d="M460 148.2h2.2v4.2h-2.2z" fill="none" stroke="#7a7a7a" stroke-width="0.6"/><path d="M461.1 148.2v4.2" stroke="#7a7a7a" stroke-width="0.5"/><path d="M457.7 168l2 -1.8v3.6z" fill="#7a7a7a"/><path d="M460 165.9h2.2v4.2h-2.2z" fill="none" stroke="#7a7a7a" stroke-width="0.6"/><path d="M461.1 165.9v4.2" stroke="#7a7a7a" stroke-width="0.5"/><path d="M443.3 178.6l-1.9 2.5h3.8z" fill="#707070"/><circle cx="442.25" cy="182.4" r="0.9" fill="none" stroke="#707070" stroke-width="0.6"/><circle cx="444.35" cy="182.4" r="0.9" fill="none" stroke="#707070" stroke-width="0.6"/><path d="M452.7 178.6l-1.9 2.5h3.8z" fill="#707070"/><circle cx="451.65" cy="182.4" r="0.9" fill="none" stroke="#707070" stroke-width="0.6"/><circle cx="453.75" cy="182.4" r="0.9" fill="none" stroke="#707070" stroke-width="0.6"/></g>
<g font-family='"Liberation Serif", "Times New Roman", serif' font-weight="bold" font-size="7.1" fill="#111"><path d="M471.8 133.2H494.7" stroke="#000" stroke-width="0.9"/><path d="M481.43 131.38h3.64v3.64h-3.64z" fill="#000"/><text x="497.5" y="135.3">A<tspan font-size="4.9" dx="0.3" dy="1.3">1</tspan><tspan dx="0.3" dy="-1.3">B</tspan><tspan font-size="4.9" dx="0.3" dy="1.3">1</tspan></text><path d="M471.8 143.4H494.7" stroke="#ff2a2a" stroke-width="0.9"/><g fill="#fff" stroke="#ff2a2a" stroke-width="0.9"><circle cx="483.25" cy="143.4" r="1.6800000000000002"/></g><text x="497.5" y="145.5">A<tspan font-size="4.9" dx="0.3" dy="1.3">2</tspan><tspan dx="0.3" dy="-1.3">B</tspan><tspan font-size="4.9" dx="0.3" dy="1.3">2</tspan></text><path d="M471.8 153.9H494.7" stroke="#0000ff" stroke-width="0.9"/><path d="M483.25 151.08l2.69 4.7h-5.38z" fill="#0000ff"/><text x="497.5" y="156">A<tspan font-size="4.9" dx="0.3" dy="1.3">3</tspan><tspan dx="0.3" dy="-1.3">B</tspan><tspan font-size="4.9" dx="0.3" dy="1.3">3</tspan></text></g>
<text transform="translate(16.3 98.6) rotate(-90)" text-anchor="middle" font-family='"Liberation Serif", "Times New Roman", serif' font-weight="bold" font-style="italic" font-size="11.6" fill="#111">K<tspan font-size="7.8" font-style="normal" dy="2.8">c</tspan></text>
<text transform="translate(291.8 98.6) rotate(-90)" text-anchor="middle" font-family='"Liberation Serif", "Times New Roman", serif' font-weight="bold" font-style="italic" font-size="11.6" fill="#111">K<tspan font-size="7.8" font-style="normal" dy="2.8">f</tspan></text>
<text x="148.5" y="213.4" text-anchor="middle" font-family='"Liberation Serif", "Times New Roman", serif' font-weight="bold" font-size="12.2" fill="#111">Normalized distance(<tspan font-style="italic">r</tspan>/<tspan font-style="italic">r</tspan><tspan font-size="7.5" dy="2.4">w</tspan><tspan dy="-2.4">)</tspan></text>
<text x="420.2" y="213.4" text-anchor="middle" font-family='"Liberation Serif", "Times New Roman", serif' font-weight="bold" font-size="12.2" fill="#111">Normalized distance(<tspan font-style="italic">r</tspan>/<tspan font-style="italic">r</tspan><tspan font-size="7.5" dy="2.4">w</tspan><tspan dy="-2.4">)</tspan></text>
<text x="135.2" y="237.5" text-anchor="middle" font-family='"Liberation Serif", "Times New Roman", serif' font-size="14" fill="#111" style="stroke-width:0.45px">(a)</text>
<text x="408.0" y="237.5" text-anchor="middle" font-family='"Liberation Serif", "Times New Roman", serif' font-size="14" fill="#111" style="stroke-width:0.45px">(b)</text>
</g>
</svg>
</body></html>
